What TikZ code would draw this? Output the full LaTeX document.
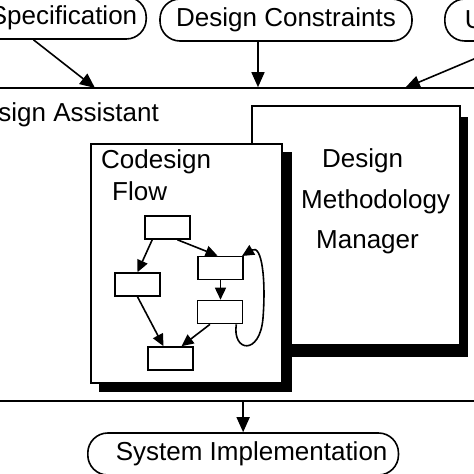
\documentclass[tikz,border=0pt]{standalone}
\usepackage{fontspec}
\setmainfont{Liberation Sans}
\usetikzlibrary{arrows.meta,calc}
\begin{document}
\begin{tikzpicture}[x=1pt,y=-1pt,
 txt/.style={font=\fontsize{26}{30}\selectfont, inner sep=0pt},
 pill/.style={draw, line width=1.6pt, rounded corners=20pt, minimum height=42pt, font=\fontsize{26}{30}\selectfont, fill=white},
 bigarrow/.style={line width=1.6pt, -{Triangle[length=15pt,width=13pt]}},
 smallarrow/.style={line width=1.6pt, -{Triangle[length=12pt,width=11pt]}},
 flowbox/.style={draw, line width=1.6pt, minimum width=45pt, minimum height=23pt, inner sep=0pt, fill=white},
 panel/.style={draw, line width=1.6pt, fill=white, inner sep=0pt},
 shadowbox/.style={fill=black, inner sep=0pt}
]
\useasboundingbox (0,0) rectangle (474,474);
\fill[white] (0,0) rectangle (474,474);
\clip (0,0) rectangle (474,474);

% assistant frame
\node[draw, line width=1.6pt, minimum width=574pt, minimum height=313pt, inner sep=0pt] (assist) at (237,244.5) {};
\node[txt, anchor=base west] (assistlbl) at (-35,121) {Design Assistant};

% top pills
\node[pill, anchor=east, inner xsep=9pt] (spec) at (147,18) {Specification};
\node[pill, minimum width=252pt] (dc) at (286,20) {Design Constraints};
\node[pill, anchor=west, text width=100pt, align=left, inner xsep=20pt] (ureq) at (444,20) {U};

\coordinate (t1) at (95,88);
\coordinate (t3) at (405,88);
\coordinate (dcout) at ([xshift=-28pt]dc.south);
\draw[bigarrow] ([xshift=-30pt]spec.south) -- (t1);
\draw[bigarrow] (dcout) -- (dcout |- assist.north);
\draw[bigarrow] (ureq.south) -- (t3);

% design methodology manager
\node[shadowbox, minimum width=208pt, minimum height=240pt] (dmmsh) at (364,237) {};
\node[panel, minimum width=208pt, minimum height=239pt] (dmm) at (356,225.5) {};
\node[txt, anchor=base west] (dm1) at (322,167) {Design};
\node[txt, anchor=base west] (dm2) at (301,208) {Methodology};
\node[txt, anchor=base west] (dm3) at (316,248) {Manager};

% codesign flow
\node[shadowbox, minimum width=193pt, minimum height=240pt] (cfsh) at (195.5,272) {};
\node[panel, minimum width=191pt, minimum height=239pt] (cf) at (186.5,263.5) {};
\node[txt, anchor=base west] (cf1) at (101,168) {Codesign};
\node[txt, anchor=base west] (cf2) at (112,200) {Flow};

\node[flowbox] (fa) at (167.5,227.5) {};
\node[flowbox] (fb) at (137.5,284.5) {};
\node[flowbox] (fc) at (220.5,268) {};
\node[flowbox] (fd) at (220,312) {};
\node[flowbox] (fe) at (170.5,358.5) {};

\draw[smallarrow] ([xshift=8pt]fa.south west) -- (fb.north);
\draw[smallarrow] ([xshift=10pt]fa.south) -- ([xshift=-3pt]fc.north);
\draw[smallarrow] (fc.south) -- (fc.south |- fd.north);
\draw[smallarrow] (fb.south) -- ([xshift=-7pt]fe.north);
\draw[smallarrow] ([xshift=-10pt]fd.south) -- ([xshift=11pt]fe.north);
\coordinate (loopend) at (242,256);
\draw[smallarrow] ([xshift=-7pt]fd.south east) .. controls (232,352) and (260,356) .. (263,318) .. controls (266,280) and (262,244) .. (loopend);

% bottom
\node[pill, anchor=west, inner xsep=11pt] (sysimp) at (87,454) {\hspace*{17pt}System Implementation};
\draw[bigarrow] (sysimp.north |- assist.south) -- (sysimp.north);
\end{tikzpicture}
\end{document}
